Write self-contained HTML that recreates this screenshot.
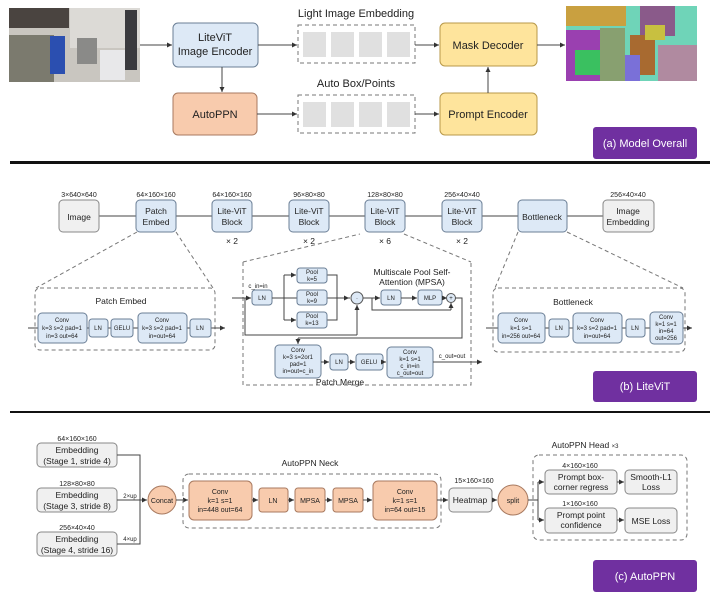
<!DOCTYPE html>
<html><head><meta charset="utf-8"><style>
html,body{margin:0;padding:0;background:#fff;}
svg{display:block;font-family:"Liberation Sans",Arial,sans-serif;}
</style></head><body>
<svg width="720" height="598" viewBox="0 0 720 598" xmlns="http://www.w3.org/2000/svg">
<defs>
<marker id="a" markerWidth="6" markerHeight="6" refX="5" refY="3" orient="auto" markerUnits="userSpaceOnUse"><path d="M0,0.5 L5,3 L0,5.5z" fill="#333"/></marker>
</defs>
<style>
.bl{fill:#dde9f6;stroke:#6b7f96;stroke-width:1}
.gy{fill:#f0f0f0;stroke:#888;stroke-width:1}
.or{fill:#f8cbad;stroke:#a87a60;stroke-width:1}
.ye{fill:#fee49c;stroke:#b8994a;stroke-width:1}
.dash{fill:none;stroke:#777;stroke-width:1;stroke-dasharray:4,3}
.ln{stroke:#444;stroke-width:1;fill:none}
text{fill:#222;text-anchor:middle}
.t7{font-size:7px}.t6{font-size:6px}.t8{font-size:8.5px}.t10{font-size:11px}.t12{font-size:13px}
</style>

<!-- ===== (a) ===== -->
<g>
<rect x="9" y="8" width="131" height="74" fill="#c9c6c0"/>
<rect x="9" y="8" width="60" height="20" fill="#4a4440"/>
<rect x="70" y="8" width="70" height="40" fill="#dcdad6"/>
<rect x="9" y="35" width="45" height="47" fill="#7b7a6e"/>
<rect x="50" y="36" width="15" height="38" fill="#2b4fb0"/>
<rect x="77" y="38" width="20" height="26" fill="#8a8a88"/>
<rect x="100" y="50" width="25" height="30" fill="#e8e8ea"/>
<rect x="125" y="10" width="12" height="60" fill="#3a3a3e"/>
<rect x="566" y="6" width="131" height="75" fill="#6fd4b8"/>
<rect x="566" y="6" width="60" height="20" fill="#c9a040"/>
<rect x="640" y="6" width="35" height="30" fill="#8a5a8a"/>
<rect x="566" y="30" width="40" height="51" fill="#9a40b0"/>
<rect x="575" y="50" width="30" height="25" fill="#3ac060"/>
<rect x="600" y="28" width="25" height="53" fill="#88a070"/>
<rect x="630" y="35" width="25" height="40" fill="#a86a30"/>
<rect x="625" y="55" width="15" height="26" fill="#7a70d8"/>
<rect x="658" y="45" width="39" height="36" fill="#b08aa0"/>
<rect x="645" y="25" width="20" height="15" fill="#c8c040"/>

<text x="356" y="17" class="t10">Light Image Embedding</text>
<text x="356" y="87" class="t10">Auto Box/Points</text>
<rect x="173" y="23" width="85" height="44" rx="5" class="bl"/>
<text x="215" y="41" class="t10">LiteViT</text><text x="215" y="55" class="t10">Image Encoder</text>
<rect x="173" y="93" width="84" height="42" rx="5" class="or"/>
<text x="215" y="118" class="t10">AutoPPN</text>
<rect x="298" y="25" width="117" height="38" class="dash" stroke-dasharray="2,2"/>
<rect x="298" y="95" width="117" height="38" class="dash" stroke-dasharray="2,2"/>
<g fill="#e0e0e0">
<rect x="303" y="32" width="23" height="25"/><rect x="331" y="32" width="23" height="25"/><rect x="359" y="32" width="23" height="25"/><rect x="387" y="32" width="23" height="25"/>
<rect x="303" y="102" width="23" height="25"/><rect x="331" y="102" width="23" height="25"/><rect x="359" y="102" width="23" height="25"/><rect x="387" y="102" width="23" height="25"/>
</g>
<rect x="440" y="23" width="97" height="43" rx="5" class="ye"/>
<text x="488" y="49" class="t10">Mask Decoder</text>
<rect x="440" y="93" width="97" height="42" rx="5" class="ye"/>
<text x="488" y="118" class="t10">Prompt Encoder</text>
<line x1="140" y1="45" x2="172" y2="45" class="ln" marker-end="url(#a)"/>
<line x1="258" y1="45" x2="297" y2="45" class="ln" marker-end="url(#a)"/>
<line x1="415" y1="45" x2="439" y2="45" class="ln" marker-end="url(#a)"/>
<line x1="537" y1="45" x2="565" y2="45" class="ln" marker-end="url(#a)"/>
<line x1="222" y1="67" x2="222" y2="92" class="ln" marker-end="url(#a)"/>
<line x1="257" y1="114" x2="297" y2="114" class="ln" marker-end="url(#a)"/>
<line x1="415" y1="114" x2="439" y2="114" class="ln" marker-end="url(#a)"/>
<line x1="488" y1="93" x2="488" y2="67" class="ln" marker-end="url(#a)"/>
<rect x="593" y="127" width="104" height="32" rx="3" fill="#7030a0"/>
<text x="645" y="147" class="t10" style="fill:#fff">(a) Model Overall</text>
<rect x="10" y="161" width="700" height="3" fill="#111"/>
</g>

<!-- ===== (b) ===== -->
<g>
<line x1="99" y1="216" x2="603" y2="216" class="ln" stroke="#555"/>
<text x="79" y="197" class="t7">3×640×640</text>
<rect x="59" y="200" width="40" height="32" rx="4" class="gy"/><text x="79" y="220" class="t8">Image</text>
<text x="156" y="197" class="t7">64×160×160</text>
<rect x="136" y="200" width="40" height="32" rx="4" class="bl"/><text x="156" y="214" class="t8">Patch</text><text x="156" y="225" class="t8">Embed</text>
<text x="232" y="197" class="t7">64×160×160</text>
<rect x="212" y="200" width="40" height="32" rx="4" class="bl"/><text x="232" y="214" class="t8">Lite-ViT</text><text x="232" y="225" class="t8">Block</text>
<text x="232" y="244" class="t8">× 2</text>
<text x="309" y="197" class="t7">96×80×80</text>
<rect x="289" y="200" width="40" height="32" rx="4" class="bl"/><text x="309" y="214" class="t8">Lite-ViT</text><text x="309" y="225" class="t8">Block</text>
<text x="309" y="244" class="t8">× 2</text>
<text x="385" y="197" class="t7">128×80×80</text>
<rect x="365" y="200" width="40" height="32" rx="4" class="bl"/><text x="385" y="214" class="t8">Lite-ViT</text><text x="385" y="225" class="t8">Block</text>
<text x="385" y="244" class="t8">× 6</text>
<text x="462" y="197" class="t7">256×40×40</text>
<rect x="442" y="200" width="40" height="32" rx="4" class="bl"/><text x="462" y="214" class="t8">Lite-ViT</text><text x="462" y="225" class="t8">Block</text>
<text x="462" y="244" class="t8">× 2</text>
<rect x="518" y="200" width="49" height="32" rx="4" class="bl"/><text x="542" y="220" class="t8">Bottleneck</text>
<text x="628" y="197" class="t7">256×40×40</text>
<rect x="603" y="200" width="51" height="32" rx="4" class="gy"/><text x="628" y="214" class="t8">Image</text><text x="628" y="225" class="t8">Embedding</text>

<!-- patch embed detail -->
<line x1="137" y1="232" x2="36" y2="288" class="dash"/>
<line x1="176" y1="232" x2="213" y2="288" class="dash"/>
<rect x="35" y="288" width="180" height="62" rx="5" class="dash"/>
<text x="121" y="304" class="t8">Patch Embed</text>
<line x1="28" y1="328" x2="225" y2="328" class="ln" marker-end="url(#a)"/>
<rect x="38" y="313" width="49" height="30" rx="4" class="bl"/>
<text x="62" y="322" class="t6">Conv</text><text x="62" y="330" class="t6">k=3 s=2 pad=1</text><text x="62" y="338" class="t6">in=3 out=64</text>
<rect x="89" y="319" width="19" height="18" rx="3" class="bl"/><text x="98" y="330" class="t6">LN</text>
<rect x="111" y="319" width="22" height="18" rx="3" class="bl"/><text x="122" y="330" class="t6">GELU</text>
<rect x="138" y="313" width="49" height="30" rx="4" class="bl"/>
<text x="162" y="322" class="t6">Conv</text><text x="162" y="330" class="t6">k=3 s=2 pad=1</text><text x="162" y="338" class="t6">in=out=64</text>
<rect x="190" y="319" width="21" height="18" rx="3" class="bl"/><text x="200" y="330" class="t6">LN</text>

<!-- lite-vit detail -->
<path d="M243,262 L360,234 M404,234 L471,262" class="dash"/>
<path d="M243,262 L243,385 L471,385 L471,262" class="dash"/>
<line x1="232" y1="298" x2="251" y2="298" class="ln" marker-end="url(#a)"/>
<text x="258" y="288" class="t6">c_in=in</text>
<rect x="252" y="290" width="20" height="15" rx="3" class="bl"/><text x="262" y="300" class="t6">LN</text>
<path d="M272,298 L350,298 M284,275 L284,320 M284,275 L296,275 M284,320 L296,320 M327,275 L337,275 L337,320 L327,320" class="ln"/>
<line x1="284" y1="275" x2="296" y2="275" class="ln" marker-end="url(#a)"/>
<line x1="284" y1="320" x2="296" y2="320" class="ln" marker-end="url(#a)"/>
<line x1="337" y1="298" x2="349" y2="298" class="ln" marker-end="url(#a)"/>
<rect x="297" y="268" width="30" height="15" rx="3" class="bl"/><text x="312" y="274" class="t6">Pool</text><text x="312" y="281" class="t6">k=5</text>
<rect x="297" y="290" width="30" height="15" rx="3" class="bl"/><text x="312" y="296" class="t6">Pool</text><text x="312" y="303" class="t6">k=9</text>
<rect x="297" y="312" width="30" height="16" rx="3" class="bl"/><text x="312" y="318" class="t6">Pool</text><text x="312" y="325" class="t6">k=13</text>
<circle cx="357" cy="298" r="6" fill="#dde9f6" stroke="#555"/><text x="357" y="300" class="t6">·</text>
<path d="M245,298 L245,335 L357,335" class="ln"/>
<line x1="357" y1="335" x2="357" y2="305" class="ln" marker-end="url(#a)"/>
<line x1="363" y1="298" x2="380" y2="298" class="ln" marker-end="url(#a)"/>
<text x="412" y="275" class="t8">Multiscale Pool Self-</text>
<text x="412" y="285" class="t8">Attention (MPSA)</text>
<rect x="381" y="290" width="20" height="15" rx="3" class="bl"/><text x="391" y="300" class="t6">LN</text>
<line x1="401" y1="298" x2="417" y2="298" class="ln" marker-end="url(#a)"/>
<rect x="418" y="290" width="24" height="15" rx="3" class="bl"/><text x="430" y="300" class="t6">MLP</text>
<line x1="442" y1="298" x2="447" y2="298" class="ln" marker-end="url(#a)"/>
<circle cx="451" cy="298" r="4.5" fill="#dde9f6" stroke="#555"/><text x="451" y="300" class="t6">+</text>
<path d="M372,298 L372,310 L451,310" class="ln"/>
<line x1="451" y1="310" x2="451" y2="303" class="ln" marker-end="url(#a)"/>
<path d="M455,298 L462,298 L462,338 L298,338" class="ln"/>
<line x1="298" y1="338" x2="298" y2="344" class="ln" marker-end="url(#a)"/>
<rect x="275" y="345" width="46" height="33" rx="4" class="bl"/>
<text x="298" y="352" class="t6">Conv</text><text x="298" y="359" class="t6">k=3 s=2or1</text><text x="298" y="366" class="t6">pad=1</text><text x="298" y="373" class="t6">in=out=c_in</text>
<line x1="321" y1="362" x2="329" y2="362" class="ln" marker-end="url(#a)"/>
<rect x="330" y="354" width="18" height="16" rx="3" class="bl"/><text x="339" y="364" class="t6">LN</text>
<line x1="348" y1="362" x2="355" y2="362" class="ln" marker-end="url(#a)"/>
<rect x="356" y="354" width="27" height="16" rx="3" class="bl"/><text x="369" y="364" class="t6">GELU</text>
<line x1="383" y1="362" x2="386" y2="362" class="ln" marker-end="url(#a)"/>
<rect x="387" y="347" width="46" height="31" rx="4" class="bl"/>
<text x="410" y="354" class="t6">Conv</text><text x="410" y="361" class="t6">k=1 s=1</text><text x="410" y="368" class="t6">c_in=in</text><text x="410" y="375" class="t6">c_out=out</text>
<line x1="433" y1="362" x2="482" y2="362" class="ln" marker-end="url(#a)"/>
<text x="452" y="358" class="t6">c_out=out</text>
<text x="340" y="385" class="t8">Patch Merge</text>

<!-- bottleneck detail -->
<line x1="518" y1="232" x2="495" y2="288" class="dash"/>
<line x1="567" y1="232" x2="683" y2="288" class="dash"/>
<rect x="493" y="288" width="192" height="64" rx="5" class="dash"/>
<text x="573" y="305" class="t8">Bottleneck</text>
<line x1="486" y1="328" x2="692" y2="328" class="ln" marker-end="url(#a)"/>
<rect x="498" y="313" width="47" height="30" rx="4" class="bl"/>
<text x="521" y="322" class="t6">Conv</text><text x="521" y="330" class="t6">k=1 s=1</text><text x="521" y="338" class="t6">in=256 out=64</text>
<rect x="549" y="319" width="20" height="18" rx="3" class="bl"/><text x="559" y="330" class="t6">LN</text>
<rect x="573" y="313" width="49" height="30" rx="4" class="bl"/>
<text x="597" y="322" class="t6">Conv</text><text x="597" y="330" class="t6">k=3 s=2 pad=1</text><text x="597" y="338" class="t6">in=out=64</text>
<rect x="626" y="319" width="19" height="18" rx="3" class="bl"/><text x="635" y="330" class="t6">LN</text>
<rect x="650" y="312" width="33" height="32" rx="4" class="bl"/>
<text x="666" y="319" class="t6">Conv</text><text x="666" y="326" class="t6">k=1 s=1</text><text x="666" y="333" class="t6">in=64</text><text x="666" y="340" class="t6">out=256</text>

<rect x="593" y="371" width="104" height="31" rx="3" fill="#7030a0"/>
<text x="645" y="390" class="t10" style="fill:#fff">(b) LiteViT</text>
<rect x="10" y="411" width="700" height="2" fill="#111"/>
</g>

<!-- ===== (c) ===== -->
<g>
<text x="77" y="441" class="t7">64×160×160</text>
<rect x="37" y="443" width="80" height="24" rx="4" class="gy"/><text x="77" y="453" class="t8">Embedding</text><text x="77" y="464" class="t8">(Stage 1, stride 4)</text>
<text x="77" y="486" class="t7">128×80×80</text>
<rect x="37" y="488" width="80" height="24" rx="4" class="gy"/><text x="77" y="498" class="t8">Embedding</text><text x="77" y="509" class="t8">(Stage 3, stride 8)</text>
<text x="77" y="530" class="t7">256×40×40</text>
<rect x="37" y="532" width="80" height="24" rx="4" class="gy"/><text x="77" y="542" class="t8">Embedding</text><text x="77" y="553" class="t8">(Stage 4, stride 16)</text>
<path d="M117,455 L140,455 L140,544 L117,544 M117,500 L140,500" class="ln"/>
<line x1="140" y1="500" x2="147" y2="500" class="ln" marker-end="url(#a)"/>
<text x="130" y="498" class="t6">2×up</text>
<text x="130" y="541" class="t6">4×up</text>
<circle cx="162" cy="500" r="14" class="or"/><text x="162" y="503" class="t7">Concat</text>
<line x1="176" y1="500" x2="188" y2="500" class="ln" marker-end="url(#a)"/>
<text x="310" y="466" class="t8">AutoPPN Neck</text>
<rect x="183" y="474" width="258" height="54" rx="6" class="dash" stroke="#7088a8"/>
<rect x="189" y="481" width="63" height="39" rx="5" class="or"/>
<text x="220" y="494" class="t7">Conv</text><text x="220" y="503" class="t7">k=1 s=1</text><text x="220" y="512" class="t7">in=448 out=64</text>
<line x1="252" y1="500" x2="258" y2="500" class="ln" marker-end="url(#a)"/>
<rect x="259" y="488" width="29" height="24" rx="3" class="or"/><text x="273" y="503" class="t7">LN</text>
<line x1="288" y1="500" x2="294" y2="500" class="ln" marker-end="url(#a)"/>
<rect x="295" y="488" width="30" height="24" rx="3" class="or"/><text x="310" y="503" class="t7">MPSA</text>
<line x1="325" y1="500" x2="332" y2="500" class="ln" marker-end="url(#a)"/>
<rect x="333" y="488" width="30" height="24" rx="3" class="or"/><text x="348" y="503" class="t7">MPSA</text>
<line x1="363" y1="500" x2="372" y2="500" class="ln" marker-end="url(#a)"/>
<rect x="373" y="481" width="64" height="39" rx="5" class="or"/>
<text x="405" y="494" class="t7">Conv</text><text x="405" y="503" class="t7">k=1 s=1</text><text x="405" y="512" class="t7">in=64 out=15</text>
<line x1="437" y1="500" x2="448" y2="500" class="ln" marker-end="url(#a)"/>
<text x="474" y="483" class="t7">15×160×160</text>
<rect x="449" y="488" width="43" height="24" rx="4" class="gy"/><text x="470" y="503" class="t8">Heatmap</text>
<line x1="492" y1="500" x2="497" y2="500" class="ln" marker-end="url(#a)"/>
<circle cx="513" cy="500" r="15" class="or"/><text x="513" y="503" class="t7">split</text>
<path d="M528,500 L538,500 L538,482 M538,500 L538,520" class="ln"/>
<line x1="538" y1="482" x2="544" y2="482" class="ln" marker-end="url(#a)"/>
<line x1="538" y1="520" x2="544" y2="520" class="ln" marker-end="url(#a)"/>
<text x="585" y="448" class="t8">AutoPPN Head <tspan class="t6">×3</tspan></text>
<rect x="533" y="455" width="154" height="85" rx="6" class="dash"/>
<text x="580" y="468" class="t7">4×160×160</text>
<rect x="545" y="470" width="72" height="24" rx="4" class="gy"/><text x="581" y="480" class="t8">Prompt box-</text><text x="581" y="490" class="t8">corner regress</text>
<line x1="617" y1="482" x2="624" y2="482" class="ln" marker-end="url(#a)"/>
<rect x="625" y="470" width="52" height="24" rx="4" class="gy"/><text x="651" y="480" class="t8">Smooth-L1</text><text x="651" y="490" class="t8">Loss</text>
<text x="580" y="506" class="t7">1×160×160</text>
<rect x="545" y="508" width="72" height="25" rx="4" class="gy"/><text x="581" y="518" class="t8">Prompt point</text><text x="581" y="528" class="t8">confidence</text>
<line x1="617" y1="520" x2="624" y2="520" class="ln" marker-end="url(#a)"/>
<rect x="625" y="508" width="52" height="25" rx="4" class="gy"/><text x="651" y="524" class="t8">MSE Loss</text>
<rect x="593" y="560" width="104" height="32" rx="3" fill="#7030a0"/>
<text x="645" y="580" class="t10" style="fill:#fff">(c) AutoPPN</text>
</g>
</svg>
</body></html>
